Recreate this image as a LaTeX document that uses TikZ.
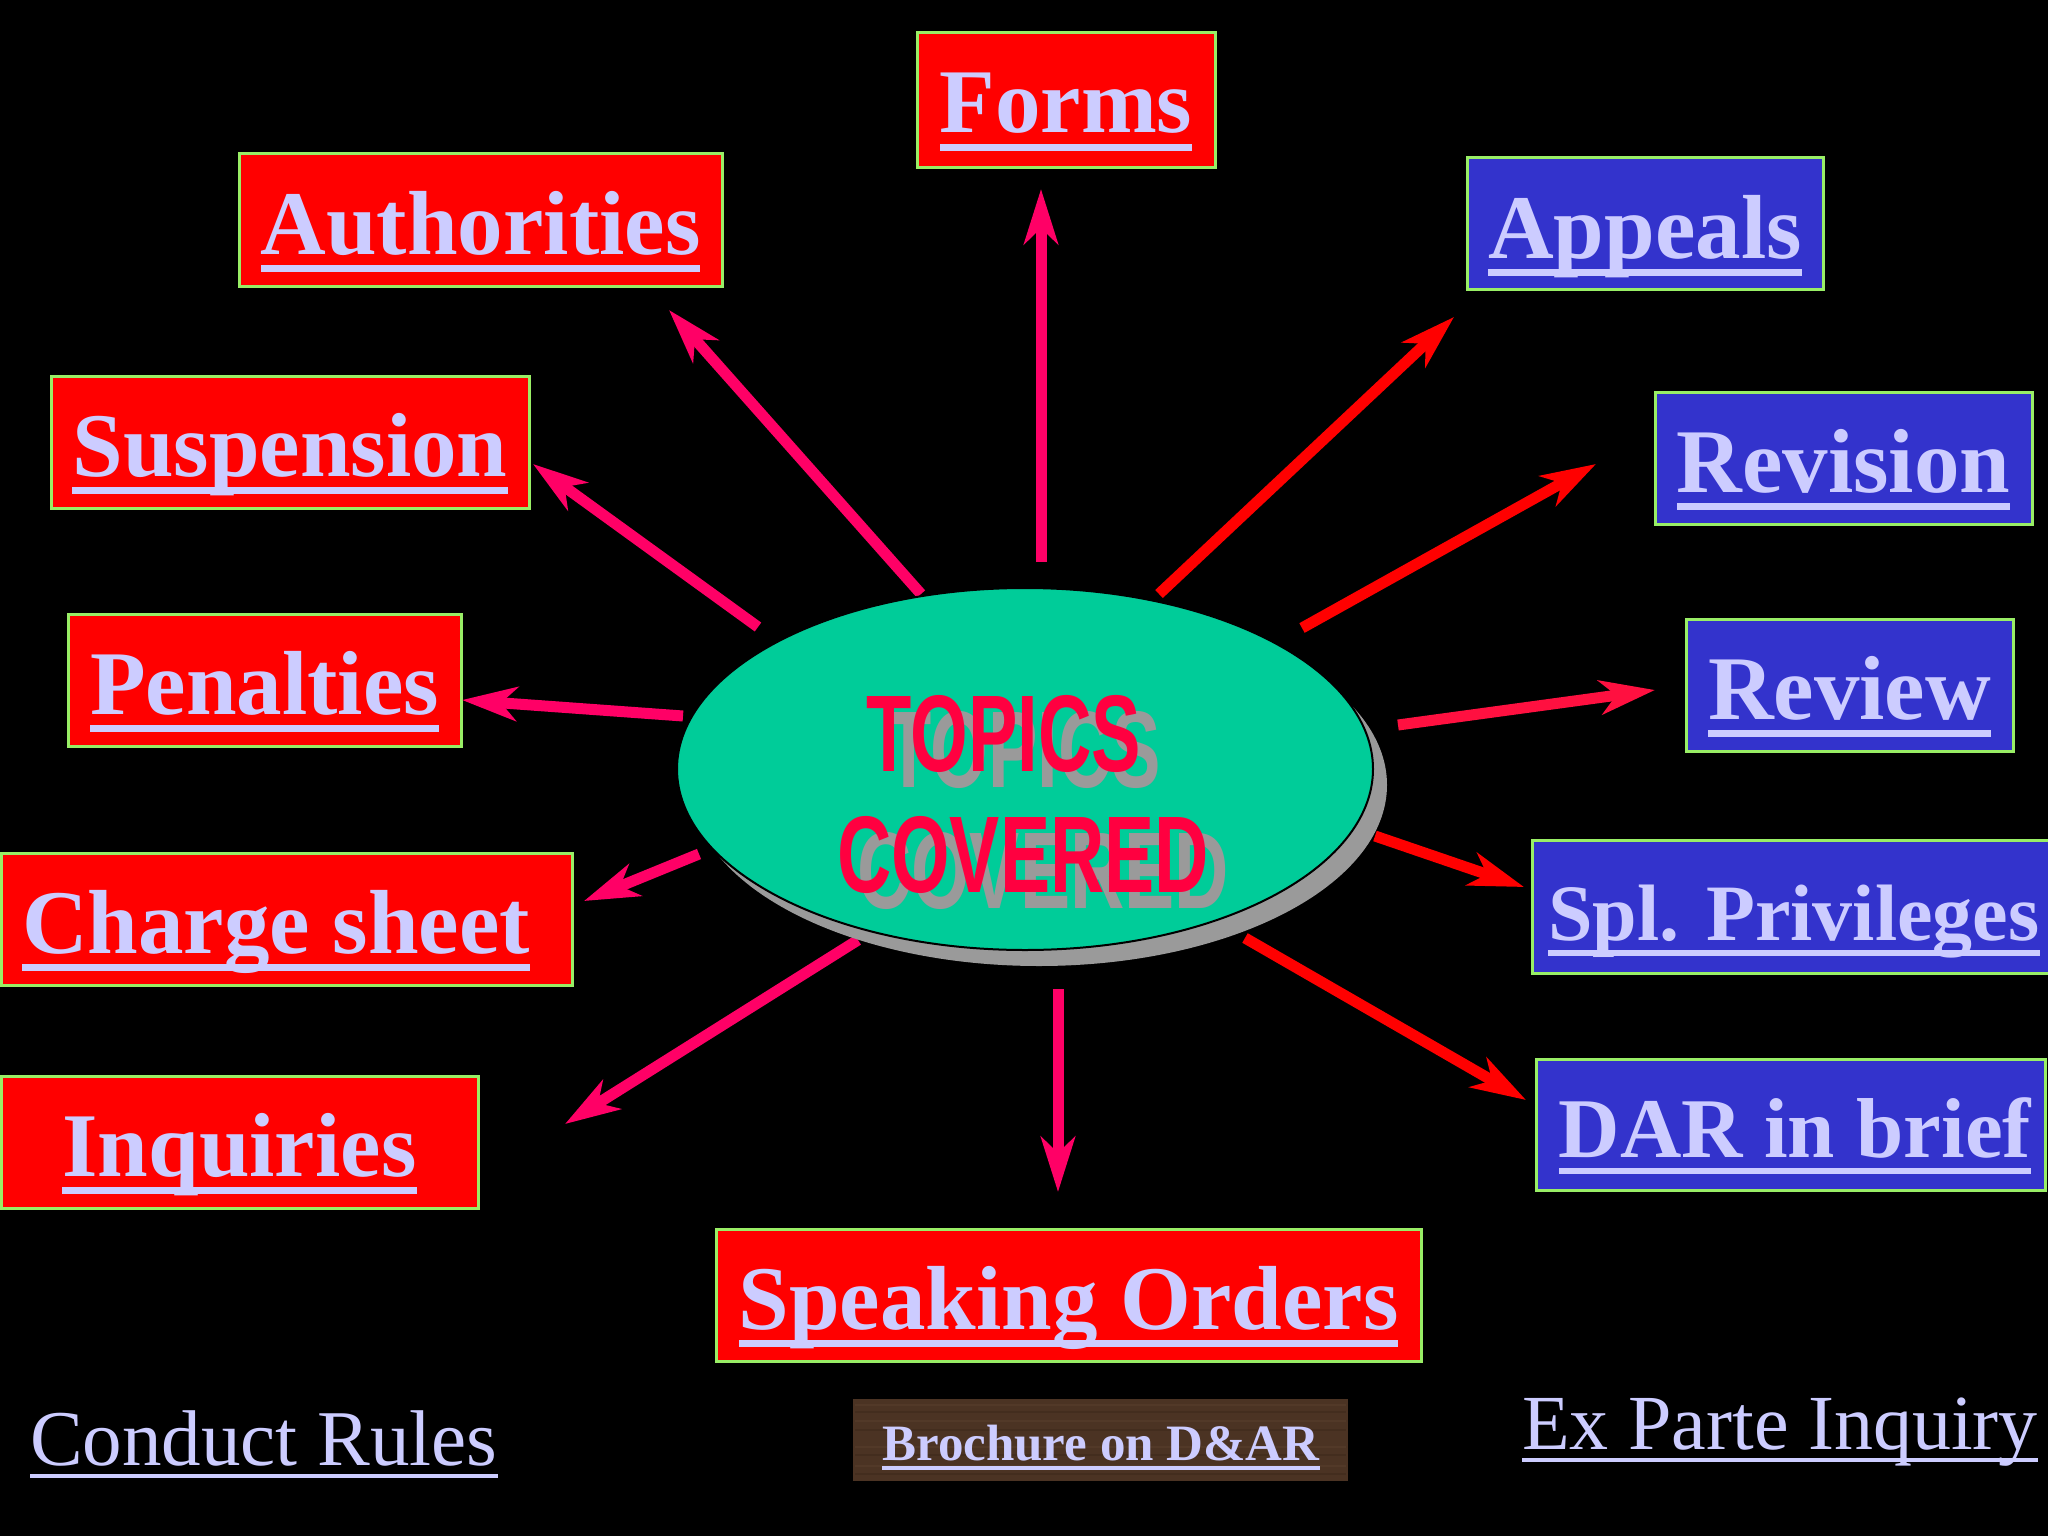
\documentclass[tikz,border=0pt]{standalone}
\usepackage{fontspec}
\usepackage{graphicx}
\setmainfont{Liberation Serif}
\newfontfamily\topicsfont{Liberation Sans}
\usetikzlibrary{arrows.meta}
\definecolor{boxred}{HTML}{FF0000}
\definecolor{boxblue}{HTML}{3333CC}
\definecolor{boxedge}{HTML}{99EE66}
\definecolor{lav}{HTML}{CCCCFF}
\definecolor{pinkarr}{HTML}{FF0066}
\definecolor{redarr}{HTML}{FF0000}
\definecolor{midarr}{HTML}{FF1040}
\definecolor{ellfill}{HTML}{00CC99}
\definecolor{topicred}{HTML}{FF0040}
\definecolor{shadowgray}{HTML}{9A9A9A}
\definecolor{wood}{HTML}{4B3323}
\definecolor{wooddark}{HTML}{3F2A1C}
\definecolor{woodlight}{HTML}{573D2C}
\newsavebox\ulbox
\newcommand\ulbold[1]{\sbox\ulbox{#1}\rlap{\rule[-0.2em]{\wd\ulbox}{0.075em}}\usebox\ulbox}
\newcommand\ulthin[1]{\sbox\ulbox{#1}\rlap{\rule[-0.17em]{\wd\ulbox}{0.05em}}\usebox\ulbox}
\tikzset{
  redbox/.style={draw=boxedge, line width=3pt, fill=boxred, inner sep=0pt, outer sep=0pt},
  bluebox/.style={draw=boxedge, line width=3pt, fill=boxblue, inner sep=0pt, outer sep=0pt},
  boxtext/.style={text=lav, inner sep=0pt, anchor=base, font=\bfseries\fontsize{91}{100}\selectfont},
  plaintext/.style={text=lav, inner sep=0pt, anchor=base west, font=\fontsize{79}{90}\selectfont},
  pinkarrow/.style={draw=pinkarr, line width=11pt, -{Stealth[length=55pt, width=34pt, inset=16pt]}},
  redarrow/.style={draw=redarr, line width=11pt, -{Stealth[length=55pt, width=34pt, inset=16pt]}},
  midarrow/.style={draw=midarr, line width=11pt, -{Stealth[length=55pt, width=34pt, inset=16pt]}},
  topictext/.style={inner sep=0pt, anchor=base, font=\topicsfont\bfseries\fontsize{109}{109}\selectfont},
}
\begin{document}
\begin{tikzpicture}[x=1pt, y=-1pt]
\useasboundingbox (0,0) rectangle (2048,1536);
\fill[black] (0,0) rectangle (2048,1536);
\clip (0,0) rectangle (2048,1536);

% boxes
\node[redbox, minimum width=298pt, minimum height=134pt] (forms) at (1066,100) {};
\node[boxtext] (formst) at (1066,133) {\ulbold{Forms}};
\node[redbox, minimum width=483pt, minimum height=132pt] (auth) at (480.5,220) {};
\node[boxtext] (autht) at (480.5,254) {\ulbold{Authorities}};
\node[bluebox, minimum width=356pt, minimum height=131pt] (appeals) at (1645,223.5) {};
\node[boxtext] (appealst) at (1645,258) {\ulbold{Appeals}};
\node[redbox, minimum width=478pt, minimum height=132pt] (susp) at (290,442) {};
\node[boxtext] (suspt) at (290,476) {\ulbold{Suspension}};
\node[bluebox, minimum width=377pt, minimum height=132pt] (revision) at (1843.5,458) {};
\node[boxtext] (revisiont) at (1843.5,492) {\ulbold{Revision}};
\node[redbox, minimum width=393pt, minimum height=132pt] (penal) at (264.5,680) {};
\node[boxtext] (penalt) at (264.5,714) {\ulbold{Penalties}};
\node[bluebox, minimum width=327pt, minimum height=132pt] (review) at (1849.5,685) {};
\node[boxtext] (reviewt) at (1849.5,719) {\ulbold{Review}};
\node[redbox, minimum width=571pt, minimum height=132pt] (charge) at (286.5,919) {};
\node[boxtext] (charget) at (276,953) {\ulbold{Charge sheet}};
\node[bluebox, minimum width=528pt, minimum height=133pt] (spl) at (1796,906.5) {};
\node[boxtext, font=\bfseries\fontsize{80}{90}\selectfont] (splt) at (1794,940) {\ulbold{Spl. Privileges}};
\node[redbox, minimum width=477pt, minimum height=132pt] (inq) at (239.5,1142) {};
\node[boxtext] (inqt) at (239.5,1176) {\ulbold{Inquiries}};
\node[bluebox, minimum width=509pt, minimum height=131pt] (dar) at (1790.5,1124.5) {};
\node[boxtext, font=\bfseries\fontsize{85}{95}\selectfont] (dart) at (1795,1157) {\ulbold{DAR in brief}};
\node[redbox, minimum width=705pt, minimum height=132pt] (speak) at (1068.5,1295) {};
\node[boxtext] (speakt) at (1068.5,1329) {\ulbold{Speaking Orders}};

% arrow end points
\coordinate (tforms) at (1041,562);  \coordinate (hforms) at (1041,189);
\coordinate (tauth) at (921,594);    \coordinate (hauth) at (669,310);
\coordinate (tsusp) at (758,627);    \coordinate (hsusp) at (533,464);
\coordinate (tpen) at (683,716);     \coordinate (hpen) at (462,700);
\coordinate (tcharge) at (699,854);  \coordinate (hcharge) at (584,901);
\coordinate (tinq) at (858,940);     \coordinate (hinq) at (565,1124);
\coordinate (tspeak) at (1058,989);  \coordinate (hspeak) at (1058,1192);
\coordinate (tapp) at (1159,594);    \coordinate (happ) at (1454,317);
\coordinate (trev) at (1302,628);    \coordinate (hrev) at (1596,464);
\coordinate (treview) at (1398,725); \coordinate (hreview) at (1655,690);
\coordinate (tspl) at (1375,836);    \coordinate (hspl) at (1524,887);
\coordinate (tdar) at (1245,938);    \coordinate (hdar) at (1526,1100);

\draw[pinkarrow] (tforms) -- (hforms);
\draw[pinkarrow] (tauth) -- (hauth);
\draw[pinkarrow] (tsusp) -- (hsusp);
\draw[pinkarrow] (tpen) -- (hpen);
\draw[pinkarrow] (tcharge) -- (hcharge);
\draw[pinkarrow] (tinq) -- (hinq);
\draw[pinkarrow] (tspeak) -- (hspeak);
\draw[redarrow] (tapp) -- (happ);
\draw[redarrow] (trev) -- (hrev);
\draw[midarrow] (treview) -- (hreview);
\draw[redarrow] (tspl) -- (hspl);
\draw[redarrow] (tdar) -- (hdar);

% central ellipse
\fill[shadowgray] (1039,785) ellipse [x radius=348, y radius=181];
\draw[fill=ellfill, draw=black, line width=2pt] (1025,769) ellipse [x radius=348, y radius=181];
\node[topictext, text=shadowgray] (topicsS) at (1024,787) {\scalebox{0.68}[1]{TOPICS}};
\node[topictext, text=shadowgray] (coveredS) at (1043,908) {\scalebox{0.69}[1]{COVERED}};
\node[topictext, text=topicred] (topics) at (1004,771) {\scalebox{0.68}[1]{TOPICS}};
\node[topictext, text=topicred] (covered) at (1023,892) {\scalebox{0.69}[1]{COVERED}};

% brochure
\node[fill=wood, minimum width=495pt, minimum height=82pt, inner sep=0pt] (broch) at (1100.5,1440) {};
\foreach \yy/\cc in {1405/woodlight,1412/wooddark,1421/woodlight,1430/wooddark,1447/woodlight,1455/wooddark,1466/woodlight,1474/wooddark}
  \draw[\cc, line width=2.5pt, opacity=0.6] (855,\yy) -- (1346,\yy);
\node[boxtext, font=\bfseries\fontsize{51}{60}\selectfont] (brocht) at (1101,1460) {\ulbold{Brochure on D\&AR}};

% plain texts
\node[plaintext] (conduct) at (30,1465) {\ulthin{Conduct Rules}};
\node[plaintext, font=\fontsize{78}{88}\selectfont] (exparte) at (1522,1449) {\ulthin{Ex Parte Inquiry}};
\end{tikzpicture}
\end{document}
